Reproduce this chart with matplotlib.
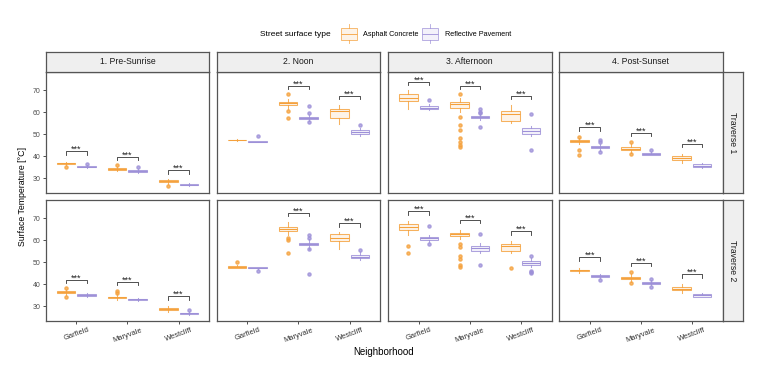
import matplotlib.pyplot as plt
import numpy as np

plt.rcParams['font.family'] = ['Liberation Sans', 'DejaVu Sans']

periods = ['1. Pre-Sunrise', '2. Noon', '3. Afternoon', '4. Post-Sunset']
traverses = ['Traverse 1', 'Traverse 2']
neighborhoods = ['Garfield', 'Maryvale', 'Westcliff']
surfaces = ['Asphalt Concrete', 'Reflective Pavement']
colors = ['#F5A13C', '#9D90D8']

# box summaries (whislo, q1, med, q3, whishi) -> [traverse][period][neighborhood]
asphalt_box = [
    [[(35.8, 36.3, 36.7, 37.0, 37.5), (33.0, 33.8, 34.0, 34.4, 35.0), (27.4, 28.2, 28.5, 29.0, 29.7)],
     [(46.9, 47.1, 47.3, 47.5, 47.7), (61.5, 63.1, 63.9, 64.6, 66.0), (54.5, 57.3, 60.3, 61.6, 63.1)],
     [(61.6, 64.9, 66.5, 68.0, 69.9), (60.2, 62.0, 63.6, 64.6, 66.3), (54.8, 56.1, 59.3, 60.3, 63.4)],
     [(45.6, 46.5, 46.9, 47.3, 48.0), (41.5, 42.8, 43.3, 44.0, 45.5), (36.8, 38.0, 38.9, 39.8, 41.0)]],
    [[(34.9, 35.9, 36.5, 37.0, 37.5), (32.8, 33.5, 33.9, 34.3, 35.5), (27.3, 28.0, 28.5, 29.1, 30.2)],
     [(47.1, 47.5, 47.8, 48.1, 48.6), (62.5, 64.0, 64.9, 65.8, 68.2), (55.8, 59.6, 61.0, 62.7, 63.7)],
     [(62.4, 64.5, 65.8, 67.2, 68.7), (60.3, 61.9, 62.7, 63.4, 64.6), (53.9, 55.1, 57.2, 58.3, 59.4)],
     [(45.2, 45.8, 46.2, 46.6, 47.2), (41.0, 42.3, 42.8, 43.3, 44.5), (36.0, 37.1, 37.9, 38.8, 39.8)]],
]
reflective_box = [
    [[(34.6, 34.9, 35.1, 35.4, 35.9), (32.5, 32.9, 33.1, 33.5, 34.2), (26.3, 26.7, 26.9, 27.2, 27.6)],
     [(46.2, 46.4, 46.5, 46.7, 46.9), (56.0, 56.8, 57.3, 57.8, 58.8), (49.3, 50.1, 51.0, 51.9, 52.8)],
     [(61.0, 61.3, 62.0, 62.6, 63.5), (56.5, 57.3, 57.7, 58.1, 59.0), (49.2, 49.9, 51.5, 52.7, 53.8)],
     [(42.5, 43.6, 44.0, 44.4, 45.5), (40.3, 40.7, 41.0, 41.3, 42.0), (34.7, 35.2, 35.7, 36.3, 36.8)]],
    [[(34.3, 34.7, 35.0, 35.3, 35.8), (32.5, 32.8, 33.1, 33.4, 33.7), (26.0, 26.5, 26.7, 27.0, 27.3)],
     [(47.0, 47.2, 47.4, 47.7, 47.9), (56.0, 57.6, 58.1, 58.6, 60.5), (50.8, 51.8, 52.5, 53.3, 54.5)],
     [(59.1, 60.0, 60.8, 61.5, 62.4), (54.0, 55.1, 56.3, 57.2, 58.5), (47.8, 48.7, 49.4, 50.3, 51.8)],
     [(42.9, 43.4, 43.7, 44.0, 44.5), (39.5, 40.2, 40.6, 41.1, 41.8), (33.9, 34.1, 34.9, 35.5, 35.9)]],
]

asphalt_fliers = [
    [[[35.2], [35.9], [26.2]],
     [[], [68.2, 60.5, 57.1], []],
     [[], [68.3, 57.9, 53.9, 51.7, 48.4, 46.2, 45.0, 44.3], []],
     [[48.7, 42.9, 40.6], [46.4, 40.9], []]],
    [[[38.2, 34.1], [37.0, 36.1], []],
     [[49.8], [60.8, 60.1, 53.9], []],
     [[57.3, 54.2], [58.1, 57.0, 52.8, 51.3, 48.8, 47.9], [47.1]],
     [[], [45.6, 40.7], []]],
]
reflective_fliers = [
    [[[36.4], [34.8], []],
     [[49.2], [62.6, 59.7, 55.6], [54.2]],
     [[65.3], [61.3, 60.2, 59.4, 53.0], [59.3, 42.7]],
     [[47.2, 46.4, 41.8], [42.7], []]],
    [[[], [], [28.1]],
     [[46.1], [62.2, 60.8, 55.7, 44.4], [55.5]],
     [[66.4, 58.1], [62.8, 48.8], [52.8, 46.1, 45.5, 44.9]],
     [[41.9], [42.4, 38.6], []]],
]

# height of the "***" brackets (None = no bracket)
bracket_y = [
    [[42.1, 39.7, 33.5], [None, 72.0, 67.4], [73.8, 72.0, 67.4], [53.0, 50.5, 45.5]],
    [[41.9, 40.9, 34.4], [None, 72.4, 67.6], [73.0, 69.1, 63.9], [52.1, 49.7, 44.4]],
]

W, H = 768, 384


def rect(x0, y0, x1, y1):
    return [x0 / W, 1 - y1 / H, (x1 - x0) / W, (y1 - y0) / H]


def make_stats(box, fl):
    lo, q1, med, q3, hi = box
    return dict(whislo=lo, q1=q1, med=med, q3=q3, whishi=hi, fliers=fl)


def draw_boxes(ax, stats, pos, color, width, lw=0.75):
    ax.bxp(stats, positions=pos, widths=width, patch_artist=True, manage_ticks=False,
           boxprops=dict(facecolor=color + '1E', edgecolor=color + 'D0', linewidth=lw),
           medianprops=dict(color=color, linewidth=lw),
           whiskerprops=dict(color=color + 'D0', linewidth=lw),
           capprops=dict(linewidth=0),
           flierprops=dict(marker='o', markersize=2.3, markerfacecolor=color,
                           markeredgecolor=color, alpha=0.75))


fig = plt.figure(figsize=(W / 100, H / 100), dpi=100)

col_left = [45.7, 216.7, 388, 559]
panel_w = 163.5
row_top = [72, 200]
panel_h = 121
edge = '#555555'
strip_fill = '#EFEFEF'
x = np.arange(1, len(neighborhoods) + 1)

for r in range(2):
    for c in range(4):
        x0 = col_left[c]
        y0 = row_top[r]
        ax = fig.add_axes(rect(x0, y0, x0 + panel_w, y0 + panel_h))
        st_a = [make_stats(asphalt_box[r][c][k], asphalt_fliers[r][c][k]) for k in range(3)]
        st_r = [make_stats(reflective_box[r][c][k], reflective_fliers[r][c][k]) for k in range(3)]
        draw_boxes(ax, st_a, x - 0.2, colors[0], 0.36)
        draw_boxes(ax, st_r, x + 0.2, colors[1], 0.36)
        for k in range(3):
            h = bracket_y[r][c][k]
            if h is None:
                continue
            ax.plot([x[k] - 0.2, x[k] - 0.2, x[k] + 0.2, x[k] + 0.2],
                    [h - 1.5, h, h, h - 1.5], color='#333333', lw=0.6)
            ax.text(x[k], h - 0.3, '***', ha='center', va='baseline', fontsize=6.5, color='#222222')
        ax.set_xlim(0.4, 3.6)
        ax.set_ylim(23.2, 78.2)
        ax.set_yticks([30, 40, 50, 60, 70])
        ax.set_xticks(x)
        for s in ax.spines.values():
            s.set_color(edge)
            s.set_linewidth(0.9)
        ax.tick_params(length=2.5, width=0.6, color='#333333', labelsize=5,
                       labelcolor='#4D4D4D', pad=1.5)
        if c == 0:
            ax.set_yticklabels([str(v) for v in [30, 40, 50, 60, 70]])
        else:
            ax.tick_params(axis='y', left=False, labelleft=False)
        if r == 1:
            ax.set_xticklabels(neighborhoods, rotation=20, fontsize=5.4, color='#333333')
        else:
            ax.tick_params(axis='x', bottom=False, labelbottom=False)

        if r == 0:
            sax = fig.add_axes(rect(x0, 52, x0 + panel_w, 72))
            sax.set_facecolor(strip_fill)
            sax.set_xticks([])
            sax.set_yticks([])
            for s in sax.spines.values():
                s.set_color(edge)
                s.set_linewidth(0.9)
            sax.text(0.5, 0.5, periods[c], ha='center', va='center', fontsize=6.2,
                     color='#1A1A1A', transform=sax.transAxes)
        if c == 3:
            sax = fig.add_axes(rect(x0 + panel_w, y0, 743, y0 + panel_h))
            sax.set_facecolor(strip_fill)
            sax.set_xticks([])
            sax.set_yticks([])
            for s in sax.spines.values():
                s.set_color(edge)
                s.set_linewidth(0.9)
            sax.text(0.5, 0.5, traverses[r], ha='center', va='center', fontsize=6.2,
                     rotation=-90, color='#1A1A1A', transform=sax.transAxes)

# axis titles
fig.text(23 / W, 1 - 197 / H, 'Surface Temperature [°C]', rotation=90, ha='center',
         va='center', fontsize=6.3)
fig.text(384 / W, 1 - 352 / H, 'Neighborhood', ha='center', va='center', fontsize=7)

# legend drawn in pixel coordinates
lax = fig.add_axes(rect(250, 20, 530, 48))
lax.set_xlim(250, 530)
lax.set_ylim(48, 20)
lax.axis('off')
key_x = [348.7, 430]
for i in range(2):
    draw_boxes(lax, [dict(whislo=43, q1=39.5, med=33.5, q3=27.5, whishi=23.5, fliers=[])],
               [key_x[i]], colors[i], 16, lw=0.6)
lax.text(331, 34, 'Street surface type', ha='right', va='center', fontsize=6)
lax.text(363, 34, surfaces[0], ha='left', va='center', fontsize=5.2)
lax.text(445, 34, surfaces[1], ha='left', va='center', fontsize=5.2)

fig.savefig('out.png', dpi=100, facecolor='white')
